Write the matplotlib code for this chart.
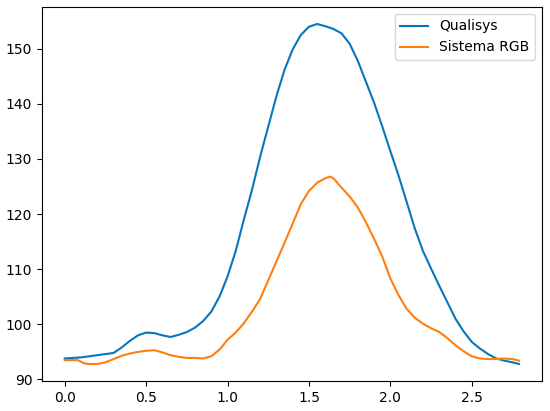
#!/usr/bin/env python3
import matplotlib
matplotlib.use('Agg')
import matplotlib.pyplot as plt

# values
t_qualisys = [0.00, 0.10, 0.20, 0.30, 0.35, 0.40, 0.45, 0.50, 0.55, 0.60,
              0.65, 0.70, 0.75, 0.80, 0.85, 0.90, 0.95, 1.00, 1.05, 1.10,
              1.15, 1.20, 1.25, 1.30, 1.35, 1.40, 1.45, 1.50, 1.55, 1.60,
              1.65, 1.70, 1.75, 1.80, 1.85, 1.90, 1.95, 2.00, 2.05, 2.10,
              2.15, 2.20, 2.25, 2.30, 2.35, 2.40, 2.45, 2.50, 2.55, 2.60,
              2.65, 2.70, 2.75, 2.79]
qualisys = [93.8, 94.0, 94.4, 94.8, 95.8, 97.0, 98.0, 98.5, 98.4, 98.0,
            97.7, 98.1, 98.6, 99.4, 100.6, 102.3, 105.0, 108.7, 113.3, 119.0,
            124.4, 130.4, 135.9, 141.4, 146.2, 149.9, 152.5, 154.0, 154.5, 154.1,
            153.6, 152.8, 150.9, 147.8, 144.0, 140.2, 135.9, 131.4, 127.0, 122.2,
            117.4, 113.3, 110.1, 107.0, 104.0, 101.0, 98.7, 96.8, 95.6, 94.6,
            93.8, 93.4, 93.1, 92.8]

t_rgb = [0.00, 0.05, 0.08, 0.12, 0.15, 0.20, 0.25, 0.30, 0.35, 0.40,
         0.45, 0.50, 0.55, 0.60, 0.65, 0.70, 0.75, 0.80, 0.85, 0.90,
         0.95, 1.00, 1.05, 1.10, 1.15, 1.20, 1.25, 1.30, 1.35, 1.40,
         1.45, 1.50, 1.55, 1.60, 1.63, 1.65, 1.70, 1.75, 1.80, 1.85,
         1.90, 1.95, 2.00, 2.05, 2.10, 2.15, 2.20, 2.25, 2.30, 2.35,
         2.40, 2.45, 2.50, 2.55, 2.60, 2.65, 2.70, 2.75, 2.79]
rgb = [93.5, 93.5, 93.5, 92.9, 92.8, 92.8, 93.1, 93.7, 94.3, 94.7,
       95.0, 95.2, 95.3, 94.9, 94.4, 94.1, 93.9, 93.9, 93.8, 94.2,
       95.4, 97.2, 98.5, 100.2, 102.3, 104.6, 108.0, 111.4, 114.8, 118.3,
       121.8, 124.2, 125.7, 126.5, 126.8, 126.5, 124.8, 123.2, 121.2, 118.5,
       115.5, 112.3, 108.3, 105.3, 102.8, 101.2, 100.1, 99.3, 98.6, 97.5,
       96.2, 95.1, 94.2, 93.8, 93.7, 93.7, 93.8, 93.7, 93.4]


def main():
    fig = plt.figure(figsize=(5.5, 4.11), dpi=100)
    ax = fig.add_axes([0.0764, 0.073, 0.9086, 0.910])

    ax.plot(t_qualisys, qualisys, color='#0677bd', label='Qualisys')
    ax.plot(t_rgb, rgb, color='#ff7f0e', label='Sistema RGB')

    ax.legend(loc='upper right')

    fig.savefig('out.png', dpi=100)


if __name__ == '__main__':
    main()
